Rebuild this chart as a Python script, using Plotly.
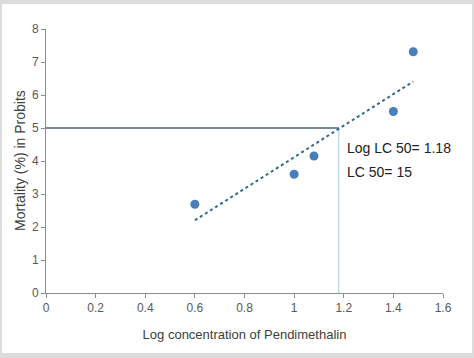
import numpy as np
import plotly.graph_objects as go

log_conc = [0.6, 1.0, 1.08, 1.4, 1.48]
probits = [2.69, 3.60, 4.15, 5.50, 7.31]
x_ticks = [0, 0.2, 0.4, 0.6, 0.8, 1, 1.2, 1.4, 1.6]
x_tick_labels = ["0", "0.2", "0.4", "0.6", "0.8", "1", "1.2", "1.4", "1.6"]
y_ticks = [0, 1, 2, 3, 4, 5, 6, 7, 8]
log_lc50 = 1.18
probit_50 = 5
annotation_lines = ["Log LC 50= 1.18", "LC 50= 15"]
annotation_y = [4.38, 3.66]
x_title = "Log concentration of Pendimethalin"
y_title = "Mortality (%) in Probits"

slope, intercept = np.polyfit(log_conc, probits, 1)
trend_x = [min(log_conc), max(log_conc)]
trend_y = [slope * v + intercept for v in trend_x]

FONT = "Liberation Sans, Arial, sans-serif"

fig = go.Figure()
fig.add_trace(go.Scatter(x=[0, log_lc50], y=[probit_50, probit_50], mode="lines",
                         line=dict(color="#7a8a99", width=2), hoverinfo="skip"))
fig.add_trace(go.Scatter(x=[log_lc50, log_lc50], y=[0, probit_50], mode="lines",
                         line=dict(color="#a9cbe8", width=1), hoverinfo="skip"))
fig.add_trace(go.Scatter(x=trend_x, y=trend_y, mode="lines",
                         line=dict(color="#2e6a8e", width=2, dash="dot")))
fig.add_trace(go.Scatter(x=log_conc, y=probits, mode="markers",
                         marker=dict(color="#4a7ebb", size=9)))

L, R, T, B = 46, 31, 29, 65
W, H = 474, 358
pw, ph = W - L - R, H - T - B
fig.add_shape(type="rect", xref="paper", yref="paper",
              x0=(2 - L) / pw, x1=(472 - L) / pw,
              y0=((H - B) - 353) / ph, y1=((H - B) - 4) / ph,
              fillcolor="white", line=dict(width=0), layer="below")

for txt, yy in zip(annotation_lines, annotation_y):
    fig.add_annotation(x=log_lc50, y=yy, xref="x", yref="y", xanchor="left", yanchor="middle",
                       xshift=6, text=txt, showarrow=False, align="left",
                       font=dict(family=FONT, size=14, color="#222222"))

fig.add_annotation(x=(20 - L) / pw, y=0.5, xref="paper", yref="paper",
                   xanchor="center", yanchor="middle", textangle=-90,
                   text=y_title, showarrow=False,
                   font=dict(family=FONT, size=14, color="#404040"))

axis_common = dict(showgrid=False, zeroline=False, showline=True, linecolor="#8c8c8c",
                   linewidth=1, ticks="outside", ticklen=4, tickwidth=1, tickcolor="#8c8c8c",
                   automargin=False,
                   tickfont=dict(family=FONT, size=12, color="#595959"))
fig.update_xaxes(range=[0, 1.6], tickvals=x_ticks, ticktext=x_tick_labels,
                 title=dict(text=x_title,
                            font=dict(family=FONT, size=13, color="#404040")),
                 **axis_common)
fig.update_yaxes(range=[0, 8], tickvals=y_ticks, ticksuffix="  ", **axis_common)
fig.update_layout(width=W, height=H, margin=dict(l=L, r=R, t=T, b=B),
                  paper_bgcolor="#dcdcdc", plot_bgcolor="white", showlegend=False)
fig.write_html("out.html", config={"displayModeBar": False},
               post_script="document.body.style.margin='0';")
